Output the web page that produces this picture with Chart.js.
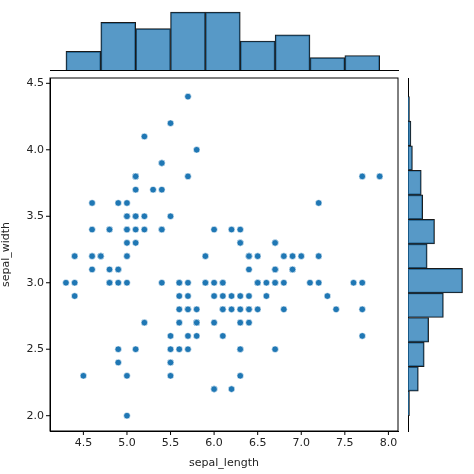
<!DOCTYPE html><html><head><script src="https://cdn.jsdelivr.net/npm/chart.js"></script>
<style>body{margin:0;background:#fff}canvas{position:absolute}</style></head><body>
<canvas id="m" style="left:0;top:0;width:474px;height:474px"></canvas>
<canvas id="t" style="left:0;top:0;width:474px;height:74px"></canvas>
<canvas id="r" style="left:400px;top:0;width:74px;height:474px"></canvas>
<script>
const sepalLength=[5.1,4.9,4.7,4.6,5.0,5.4,4.6,5.0,4.4,4.9,5.4,4.8,4.8,4.3,5.8,5.7,5.4,5.1,5.7,5.1,5.4,5.1,4.6,5.1,4.8,5.0,5.0,5.2,5.2,4.7,4.8,5.4,5.2,5.5,4.9,5.0,5.5,4.9,4.4,5.1,5.0,4.5,4.4,5.0,5.1,4.8,5.1,4.6,5.3,5.0,
7.0,6.4,6.9,5.5,6.5,5.7,6.3,4.9,6.6,5.2,5.0,5.9,6.0,6.1,5.6,6.7,5.6,5.8,6.2,5.6,5.9,6.1,6.3,6.1,6.4,6.6,6.8,6.7,6.0,5.7,5.5,5.5,5.8,6.0,5.4,6.0,6.7,6.3,5.6,5.5,5.5,6.1,5.8,5.0,5.6,5.7,5.7,6.2,5.1,5.7,
6.3,5.8,7.1,6.3,6.5,7.6,4.9,7.3,6.7,7.2,6.5,6.4,6.8,5.7,5.8,6.4,6.5,7.7,7.7,6.0,6.9,5.6,7.7,6.3,6.7,7.2,6.2,6.1,6.4,7.2,7.4,7.9,6.4,6.3,6.1,7.7,6.3,6.4,6.0,6.9,6.7,6.9,5.8,6.8,6.7,6.7,6.3,6.5,6.2,5.9];
const sepalWidth=[3.5,3.0,3.2,3.1,3.6,3.9,3.4,3.4,2.9,3.1,3.7,3.4,3.0,3.0,4.0,4.4,3.9,3.5,3.8,3.8,3.4,3.7,3.6,3.3,3.4,3.0,3.4,3.5,3.4,3.2,3.1,3.4,4.1,4.2,3.1,3.2,3.5,3.6,3.0,3.4,3.5,2.3,3.2,3.5,3.8,3.0,3.8,3.2,3.7,3.3,
3.2,3.2,3.1,2.3,2.8,2.8,3.3,2.4,2.9,2.7,2.0,3.0,2.2,2.9,2.9,3.1,3.0,2.7,2.2,2.5,3.2,2.8,2.5,2.8,2.9,3.0,2.8,3.0,2.9,2.6,2.4,2.4,2.7,2.7,3.0,3.4,3.1,2.3,3.0,2.5,2.6,3.0,2.6,2.3,2.7,3.0,2.9,2.9,2.5,2.8,
3.3,2.7,3.0,2.9,3.0,3.0,2.5,2.9,2.5,3.6,3.2,2.7,3.0,2.5,2.8,3.2,3.0,3.8,2.6,2.2,3.2,2.8,2.8,2.7,3.3,3.2,2.8,3.0,2.8,3.0,2.8,3.8,2.8,2.8,2.6,3.0,3.4,3.1,3.0,3.1,3.1,3.1,2.7,3.2,3.3,3.0,2.5,3.0,3.4,3.0];
const lengthBinStart=4.3, lengthBinWidth=0.4;
const lengthCounts=[9,23,20,28,28,14,17,6,7];
const widthBinStart=2.0, widthBinWidth=2.4/13;
const widthCounts=[1,7,11,14,24,37,13,18,10,9,3,2,1];
const xTicks=[4.5,5.0,5.5,6.0,6.5,7.0,7.5,8.0];
const yTicks=[2.0,2.5,3.0,3.5,4.0,4.5];
const XMIN=4.117,XMAX=8.11,YMIN=1.885,YMAX=4.54;
const FILL='rgba(31,119,180,0.75)',EDGE='#1a1a1a',DOT='#1f77b4';
Chart.defaults.font.family='DejaVu Sans';Chart.defaults.font.size=11;Chart.defaults.color='#222';
Chart.defaults.animation=false;
const fmt=v=>v.toFixed(1);
new Chart(document.getElementById('m'),{type:'scatter',
data:{datasets:[{data:sepalLength.map((x,i)=>({x,y:sepalWidth[i]})),backgroundColor:DOT,borderColor:'#fff',borderWidth:0.6,pointRadius:3.3}]},
options:{responsive:false,maintainAspectRatio:false,layout:{padding:{top:78,right:76,left:0,bottom:0}},plugins:{legend:{display:false},tooltip:{enabled:false}},
scales:{x:{type:'linear',min:XMIN,max:XMAX,afterBuildTicks:s=>{s.ticks=xTicks.map(v=>({value:v}))},ticks:{callback:fmt,padding:2,maxRotation:0},grid:{display:false,drawTicks:true,tickLength:4},border:{color:'#000'},title:{display:true,text:'sepal_length',padding:{top:1,bottom:4}},afterFit:s=>{s.height=43}},
y:{min:YMIN,max:YMAX,afterBuildTicks:s=>{s.ticks=yTicks.map(v=>({value:v}))},ticks:{callback:fmt,padding:2},grid:{display:false,tickLength:4},border:{color:'#000'},title:{display:true,text:'sepal_width',padding:{top:0,bottom:4}},afterFit:s=>{s.width=50}}}},
plugins:[{id:'frame',afterDraw(c){const a=c.chartArea,x=c.ctx;x.save();x.strokeStyle='#000';x.lineWidth=1;x.strokeRect(a.left,a.top,a.right-a.left,a.bottom-a.top);
x.beginPath();xTicks.forEach(v=>{const p=c.scales.x.getPixelForValue(v);x.moveTo(p,a.bottom);x.lineTo(p,a.bottom+4)});yTicks.forEach(v=>{const p=c.scales.y.getPixelForValue(v);x.moveTo(a.left,p);x.lineTo(a.left-4,p)});x.stroke();x.restore();}}]});
new Chart(document.getElementById('t'),{type:'bar',
data:{datasets:[{data:lengthCounts.map((c,i)=>({x:lengthBinStart+lengthBinWidth*(i+0.5),y:c})),backgroundColor:FILL,borderColor:EDGE,borderWidth:1,barPercentage:1,categoryPercentage:1}]},
options:{responsive:false,maintainAspectRatio:false,layout:{padding:{top:10,left:50,right:76,bottom:0}},plugins:{legend:{display:false},tooltip:{enabled:false}},
scales:{x:{type:'linear',min:XMIN,max:XMAX,offset:false,afterBuildTicks:s=>{s.ticks=xTicks.map(v=>({value:v}))},ticks:{display:false},grid:{display:false,tickLength:4},border:{color:'#000'},afterFit:s=>{s.height=4}},
y:{min:0,max:29,display:false}}}});
new Chart(document.getElementById('r'),{type:'bar',
data:{datasets:[{data:widthCounts.map((c,i)=>({y:widthBinStart+widthBinWidth*(i+0.5),x:c})),backgroundColor:FILL,borderColor:EDGE,borderWidth:1,barPercentage:1,categoryPercentage:1}]},
options:{indexAxis:'y',responsive:false,maintainAspectRatio:false,layout:{padding:{top:78,left:0,right:10,bottom:43}},plugins:{legend:{display:false},tooltip:{enabled:false}},
scales:{y:{type:'linear',min:YMIN,max:YMAX,offset:false,afterBuildTicks:s=>{s.ticks=yTicks.map(v=>({value:v}))},ticks:{display:false},grid:{display:false,tickLength:4},border:{color:'#000'},afterFit:s=>{s.width=8}},
x:{min:0,max:38,display:false}}}});
</script></body></html>
